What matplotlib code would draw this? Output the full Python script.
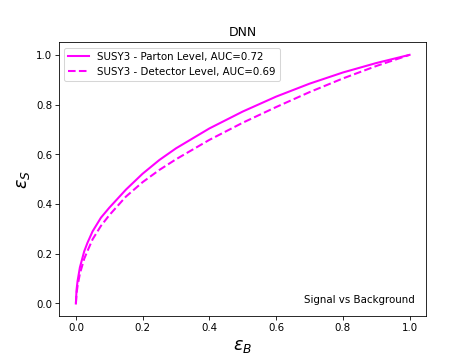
import numpy as np
import matplotlib
matplotlib.use("Agg")
import matplotlib.pyplot as plt

# ROC points (background eff, signal eff)
eps_b = [0.0, 0.002, 0.005, 0.012, 0.025, 0.035, 0.05, 0.075, 0.1, 0.15, 0.2, 0.25,
         0.3, 0.4, 0.5, 0.6, 0.7, 0.8, 0.9, 1.0]
parton_eps_s = [0.0, 0.055, 0.09, 0.145, 0.21, 0.245, 0.29, 0.345, 0.385, 0.458,
                0.522, 0.577, 0.624, 0.704, 0.772, 0.832, 0.884, 0.929, 0.967, 1.0]
detector_eps_s = [0.0, 0.04, 0.07, 0.12, 0.18, 0.212, 0.258, 0.312, 0.355, 0.43,
                  0.488, 0.537, 0.58, 0.658, 0.727, 0.79, 0.85, 0.905, 0.955, 1.0]

labels = ["SUSY3 - Parton Level, AUC=0.72", "SUSY3 - Detector Level, AUC=0.69"]

fig, ax = plt.subplots(figsize=(6.4, 4.8), dpi=74)

ax.plot(eps_b, parton_eps_s, color="magenta", linestyle="-", linewidth=2, label=labels[0])
ax.plot(eps_b, detector_eps_s, color="magenta", linestyle="--", linewidth=2, label=labels[1])

ax.set_title("DNN")
ax.set_xlabel(r"$\epsilon_B$", fontsize=17)
ax.set_ylabel(r"$\epsilon_S$", fontsize=17)
ax.legend(loc="upper left")
ax.text(0.97, 0.04, "Signal vs Background", transform=ax.transAxes, ha="right", va="bottom")

fig.savefig("out.png", dpi=74)
